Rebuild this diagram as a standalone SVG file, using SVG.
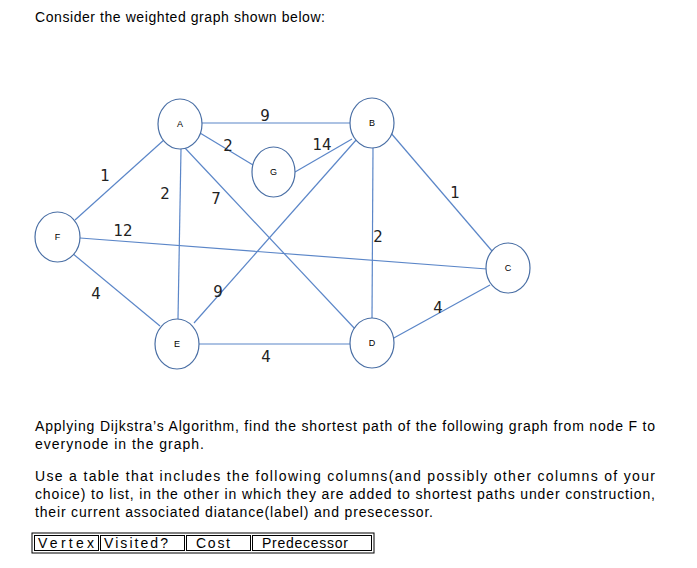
<svg xmlns="http://www.w3.org/2000/svg" width="697" height="568" viewBox="0 0 697 568">
<style>
.n{fill:#fff;stroke:#4a6fa5;stroke-width:1.2}
.nt{font-family:"Liberation Sans",sans-serif;font-size:9px;fill:#000;text-anchor:middle}
.e{stroke:#5b86c8;stroke-width:1.2;fill:none}
.w{font-family:"DejaVu Sans",sans-serif;font-size:15px;fill:#222;text-anchor:middle}
.t{font-family:"Liberation Sans",sans-serif;font-size:14px;fill:#000}
.c{fill:none;stroke:#000;stroke-width:1}
</style>
<rect width="697" height="568" fill="#fff"/>
<text class="t" x="35" y="22" textLength="290">Consider the weighted graph shown below:</text>
<g id="edges">
<line class="e" x1="202" y1="123" x2="350" y2="123"/>
<line class="e" x1="200" y1="133" x2="253" y2="165"/>
<line class="e" x1="295" y1="172" x2="352" y2="139"/>
<line class="e" x1="165" y1="139" x2="75" y2="220"/>
<line class="e" x1="181" y1="149" x2="178" y2="319"/>
<line class="e" x1="185" y1="148" x2="356" y2="330"/>
<line class="e" x1="80" y1="238" x2="487" y2="269"/>
<line class="e" x1="72" y1="253" x2="160" y2="326"/>
<line class="e" x1="194" y1="323" x2="357" y2="139"/>
<line class="e" x1="199" y1="344" x2="350" y2="344"/>
<line class="e" x1="373" y1="148" x2="372" y2="318"/>
<line class="e" x1="390" y1="132" x2="492" y2="251"/>
<line class="e" x1="392" y1="339" x2="490" y2="285"/>
</g>
<g id="weights">
<text class="w" x="265" y="121">9</text>
<text class="w" x="228" y="151">2</text>
<text class="w" x="322" y="150">14</text>
<text class="w" x="105" y="181">1</text>
<text class="w" x="165" y="199">2</text>
<text class="w" x="216" y="204">7</text>
<text class="w" x="123" y="236">12</text>
<text class="w" x="378" y="242">2</text>
<text class="w" x="455" y="198">1</text>
<text class="w" x="96" y="299">4</text>
<text class="w" x="218" y="297">9</text>
<text class="w" x="438" y="313">4</text>
<text class="w" x="266" y="362">4</text>
</g>
<g id="A"><ellipse class="n" cx="180" cy="124" rx="22" ry="25"/><text class="nt" x="180" y="127">A</text></g>
<g id="G"><ellipse class="n" cx="273.5" cy="172" rx="21.5" ry="25"/><text class="nt" x="273.5" y="175">G</text></g>
<g id="B"><ellipse class="n" cx="372" cy="123" rx="22" ry="25"/><text class="nt" x="372" y="126">B</text></g>
<g id="F"><ellipse class="n" cx="57.5" cy="237" rx="22.5" ry="25"/><text class="nt" x="57.5" y="240">F</text></g>
<g id="C"><ellipse class="n" cx="508" cy="268" rx="22" ry="25"/><text class="nt" x="508" y="271">C</text></g>
<g id="E"><ellipse class="n" cx="177" cy="344" rx="22" ry="25"/><text class="nt" x="177" y="347">E</text></g>
<g id="D"><ellipse class="n" cx="372" cy="343" rx="22" ry="25"/><text class="nt" x="372" y="346">D</text></g>
<text class="t" x="35" y="431" textLength="620">Applying Dijkstra’s Algorithm, find the shortest path of the following graph from node F to</text>
<text class="t" x="35" y="449" textLength="169">everynode in the graph.</text>
<text class="t" x="35" y="481" textLength="620">Use a table that includes the following columns(and possibly other columns of your</text>
<text class="t" x="35" y="499" textLength="620">choice) to list, in the other in which they are added to shortest paths under construction,</text>
<text class="t" x="35" y="517" textLength="398">their current associated diatance(label) and presecessor.</text>
<g id="table">
<rect class="c" x="32" y="533" width="342" height="20"/>
<rect class="c" x="34.5" y="535.5" width="64" height="15"/>
<rect class="c" x="100.5" y="535.5" width="84" height="15"/>
<rect class="c" x="186.5" y="535.5" width="64" height="15"/>
<rect class="c" x="252.5" y="535.5" width="119" height="15"/>
<text class="t" x="38" y="548" textLength="56">Vertex</text>
<text class="t" x="104" y="548" textLength="64">Visited?</text>
<text class="t" x="196" y="548" textLength="34">Cost</text>
<text class="t" x="262" y="548" textLength="86">Predecessor</text>
</g>
</svg>
